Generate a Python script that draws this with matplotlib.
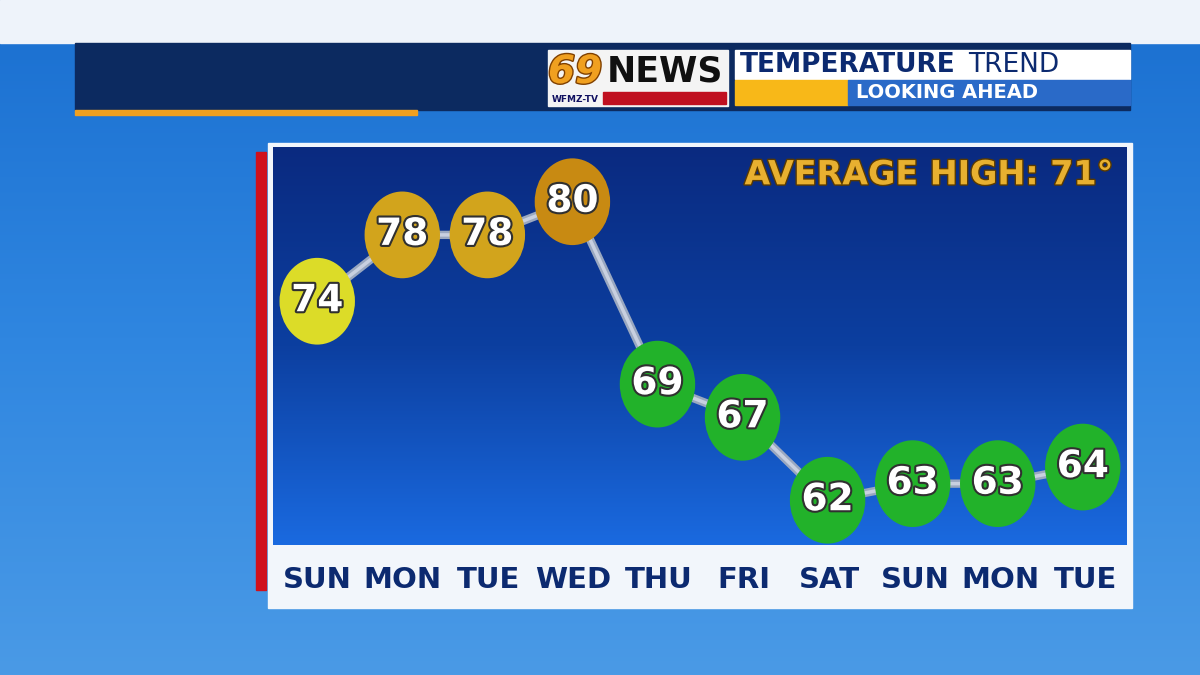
import numpy as np
import matplotlib.pyplot as plt
from matplotlib.patches import Rectangle
from matplotlib.path import Path
from matplotlib.transforms import Affine2D
import matplotlib.patheffects as pe

days = ["SUN", "MON", "TUE", "WED", "THU", "FRI", "SAT", "SUN", "MON", "TUE"]
highs = [74, 78, 78, 80, 69, 67, 62, 63, 63, 64]
avg_high = 71
title = "TEMPERATURE TREND"
subtitle = "LOOKING AHEAD"

FONT = ['Liberation Sans Narrow', 'DejaVu Sans']

W, H = 1200, 675
fig = plt.figure(figsize=(12, 6.75), dpi=100)

# background in pixel coordinates (y down)
bg = fig.add_axes([0, 0, 1, 1])
bg.set_xlim(0, W)
bg.set_ylim(H, 0)
bg.axis('off')
grad = np.linspace(0, 1, 256).reshape(-1, 1)
bg.imshow(grad, extent=[0, W, H, 0], cmap=plt.matplotlib.colors.LinearSegmentedColormap.from_list(
    'sky', ['#1a6fd0', '#2f86e0', '#4a9ae6']), aspect='auto', zorder=0)

# header
bg.add_patch(Rectangle((0, 0), W, 43, color='#eef3fa', zorder=1))
bg.add_patch(Rectangle((75, 43), 1055, 67, color='#0c2a60', zorder=1))
bg.add_patch(Rectangle((75, 110), 342, 5, color='#f0a020', zorder=1))
bg.add_patch(Rectangle((548, 50), 180, 56, color='#f4f4f4', zorder=2))
bg.text(575, 72, "69", color='#f0a020', fontsize=28, fontweight='bold', style='italic',
        family=FONT, ha='center', va='center', zorder=3,
        path_effects=[pe.withStroke(linewidth=2, foreground='#804000')])
bg.text(665, 71, "NEWS", color='#101010', fontsize=25, fontweight='bold',
        family=FONT, ha='center', va='center', zorder=3)
bg.add_patch(Rectangle((603, 92), 123, 12, color='#c01020', zorder=3))
bg.text(575, 100, "WFMZ-TV", color='#101060', fontsize=6.5, fontweight='bold',
        family=FONT, ha='center', va='center', zorder=4)
bg.add_patch(Rectangle((735, 50), 395, 29, color='white', zorder=2))
bg.text(740, 65, "TEMPERATURE", color='#0c2a70', fontsize=19, fontweight='bold',
        family=FONT, ha='left', va='center', zorder=3)
bg.text(968, 65, "TREND", color='#0c2a70', fontsize=19, family=FONT,
        ha='left', va='center', zorder=3)
bg.add_patch(Rectangle((735, 80), 113, 25, color='#f8b818', zorder=2))
bg.add_patch(Rectangle((848, 80), 282, 25, color='#2a6ac8', zorder=2))
bg.text(856, 93, subtitle, color='white', fontsize=14, fontweight='bold',
        family=FONT, ha='left', va='center', zorder=3)

# panel
bg.add_patch(Rectangle((256, 152), 10, 438, color='#d0101c', zorder=1))
bg.add_patch(Rectangle((268, 143), 864, 465, color='#f2f6fb', zorder=1))
inner = np.linspace(0, 1, 256).reshape(-1, 1)
bg.imshow(inner, extent=[273, 1127, 545, 147], cmap=plt.matplotlib.colors.LinearSegmentedColormap.from_list(
    'pan', ['#0a2a80', '#0c3fa0', '#1a6ae0']), aspect='auto', zorder=2)

# data axes: plot area
ax = fig.add_axes([273 / W, 1 - 545 / H, 854 / W, 398 / H])
ax.patch.set_alpha(0)
ax.axis('off')
x = np.arange(len(days))
ax.set_xlim(-0.52, len(days) - 0.48)
ax.set_ylim(59.3, 83.3)

ax.plot(x, highs, color='#9aa8c0', lw=6, zorder=2, solid_capstyle='round')
ax.plot(x, highs, color='#c8d0e0', lw=2.5, zorder=2)


def color_for(t):
    if t >= 80:
        return '#c88a12'
    if t >= 76:
        return '#d2a41c'
    if t >= 72:
        return '#dcdc28'
    return '#22b22a'


oval = Path.unit_circle().transformed(Affine2D().scale(1, 1.15))
ax.scatter(x, highs, s=3900, marker=oval, c=[color_for(t) for t in highs],
           edgecolors='none', zorder=3)
for xi, t in zip(x, highs):
    ax.text(xi, t, str(t), color='white', fontsize=27, fontweight='bold', family=FONT,
            ha='center', va='center', zorder=4,
            path_effects=[pe.withStroke(linewidth=3, foreground='#303030')])

ax.text(0.985, 0.93, f"AVERAGE HIGH: {avg_high}°", transform=ax.transAxes, color='#e8b030',
        fontsize=24, fontweight='bold', family=FONT, ha='right', va='center', zorder=4,
        path_effects=[pe.withStroke(linewidth=2, foreground='#5a3a00')])

# day labels
for xi, d in zip(x, days):
    px = 273 + (xi + 0.52) / len(days) * 854
    bg.text(px, 580, d, color='#0c2a70', fontsize=21, fontweight='bold', family=FONT,
            ha='center', va='center', zorder=3)

fig.savefig('out.png', dpi=100)
